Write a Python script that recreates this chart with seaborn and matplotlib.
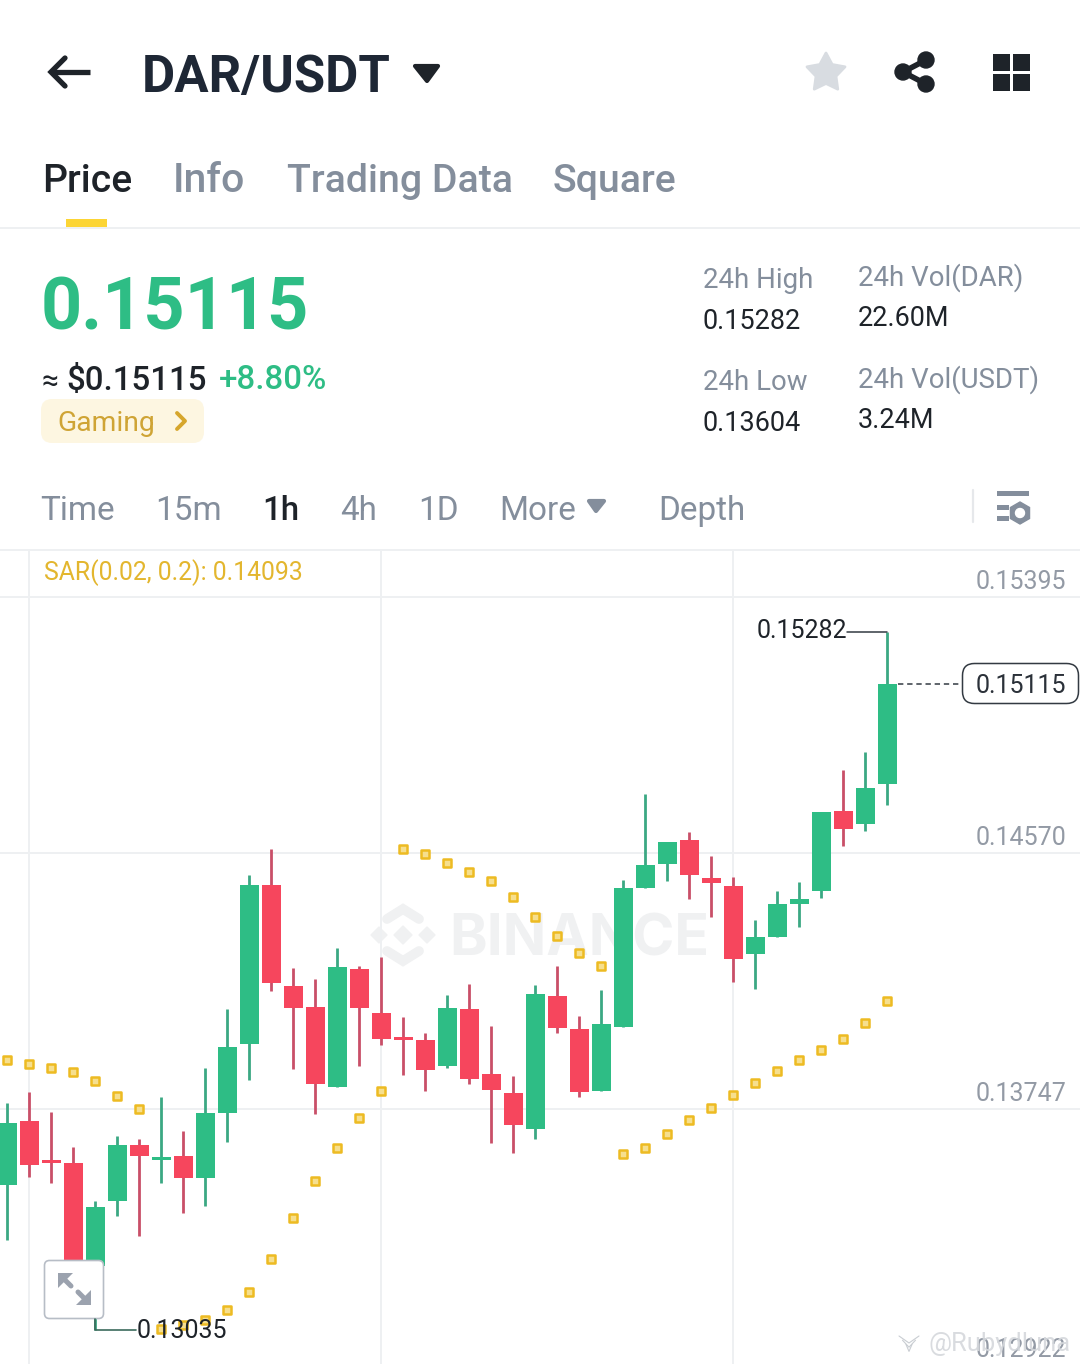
import numpy as np
import pandas as pd
import matplotlib
matplotlib.use("Agg")
import matplotlib.pyplot as plt
from matplotlib.patches import FancyBboxPatch, Polygon, Circle, Rectangle
from matplotlib.transforms import ScaledTranslation
import seaborn as sns

# candles
opens = [0.13501, 0.13707, 0.13583, 0.13572, 0.13241, 0.13450, 0.13630, 0.13582, 0.13595, 0.13524,
         0.13733, 0.13955, 0.14467, 0.14142, 0.14074, 0.13817, 0.14197, 0.14055, 0.13978, 0.13968,
         0.13884, 0.14068, 0.13859, 0.13797, 0.13682, 0.14110, 0.14003, 0.13804, 0.14010, 0.14457,
         0.14535, 0.14612, 0.14490, 0.14464, 0.14245, 0.14300, 0.14406, 0.14448, 0.14705, 0.14663,
         0.14792]
highs = [0.13765, 0.13801, 0.13736, 0.13624, 0.13450, 0.13659, 0.13649, 0.13785, 0.13675, 0.13878,
         0.14068, 0.14499, 0.14583, 0.14200, 0.14164, 0.14264, 0.14206, 0.14235, 0.14042, 0.13991,
         0.14113, 0.14148, 0.14013, 0.13852, 0.14145, 0.14206, 0.14045, 0.14129, 0.14483, 0.14760,
         0.14605, 0.14638, 0.14560, 0.14493, 0.14354, 0.14448, 0.14477, 0.14702, 0.14837, 0.14895,
         0.15282]
lows = [0.13324, 0.13527, 0.13508, 0.13215, 0.13035, 0.13401, 0.13337, 0.13508, 0.13411, 0.13434,
        0.13640, 0.13839, 0.14126, 0.13875, 0.13730, 0.13817, 0.13884, 0.13952, 0.13855, 0.13804,
        0.13878, 0.13826, 0.13636, 0.13604, 0.13649, 0.13991, 0.13785, 0.13804, 0.14010, 0.14457,
        0.14480, 0.14422, 0.14364, 0.14155, 0.14132, 0.14300, 0.14332, 0.14425, 0.14593, 0.14641,
        0.14725]
closes = [0.13701, 0.13566, 0.13572, 0.13241, 0.13430, 0.13630, 0.13595, 0.13591, 0.13524, 0.13733,
          0.13946, 0.14467, 0.14152, 0.14071, 0.13826, 0.14203, 0.14071, 0.13971, 0.13968, 0.13871,
          0.14071, 0.13843, 0.13807, 0.13694, 0.14116, 0.14007, 0.13801, 0.14020, 0.14457, 0.14531,
          0.14605, 0.14499, 0.14473, 0.14229, 0.14300, 0.14406, 0.14422, 0.14702, 0.14647, 0.14779,
          0.15115]
sar = [0.13904, 0.13891, 0.13878, 0.13865, 0.13836, 0.13788, 0.13746,
       0.13038, 0.13051, 0.13067, 0.13099, 0.13157, 0.13263, 0.13395, 0.13514, 0.13620, 0.13717, 0.13804,
       0.14583, 0.14567, 0.14538, 0.14509, 0.14480, 0.14428, 0.14364, 0.14303, 0.14248, 0.14206,
       0.13601, 0.13620, 0.13665, 0.13711, 0.13749, 0.13791, 0.13830, 0.13868, 0.13904, 0.13936,
       0.13971, 0.14023, 0.14094]
y_ticks = [0.15395, 0.14570, 0.13747, 0.12922]
x_grid = [1, 17, 33]

GREEN = "#2EBD85"
RED = "#F6465D"
GREEN_WICK = "#3BA883"
RED_WICK = "#C94F68"
DARK = "#1E2329"
GREY = "#848E9C"
LINE = "#EEF0F2"

sns.set_theme(style="white", font="Roboto")
plt.rcParams["font.family"] = ["Roboto", "DejaVu Sans"]

W, H = 1080, 1364
fig = plt.figure(figsize=(W / 100, H / 100), dpi=100, facecolor="white")


def pixel_axes(z):
    a = fig.add_axes([0, 0, 1, 1], zorder=z)
    a.set_xlim(0, W)
    a.set_ylim(H, 0)
    a.axis("off")
    a.patch.set_visible(False)
    return a


bg = pixel_axes(0)
ui = pixel_axes(3)

# chart sits from y=550px to just below the bottom edge, so the last tick still fits
top_px, bot_px = 550, 1370
ax = fig.add_axes([0, 1 - bot_px / H, 1, (bot_px - top_px) / H], zorder=1)
ax.patch.set_visible(False)
ax.set_xlim(-7.5 / 22, (W - 7.5) / 22)
ax.set_ylim(0.12906, 0.15545)
sns.despine(ax=ax, left=True, bottom=True)

ax.set_yticks(y_ticks)
ax.set_xticks(x_grid)
ax.set_xticklabels([])
ax.grid(True, color=LINE, linewidth=1.4)
ax.set_axisbelow(True)
ax.tick_params(axis="x", length=0)
ax.tick_params(axis="y", length=0, labelleft=False, labelright=True, pad=-10,
               labelsize=18, labelcolor="#939AA5")
ax.set_yticklabels([f"{v:.5f}" for v in y_ticks])
nudge = ScaledTranslation(0, 2.2 / 72, fig.dpi_scale_trans)
for tick in ax.yaxis.get_major_ticks():
    tick.label2.set_ha("right")
    tick.label2.set_va("bottom")
    tick.label2.set_transform(tick.label2.get_transform() + nudge)

df = pd.DataFrame({"open": opens, "high": highs, "low": lows, "close": closes, "sar": sar})
df["i"] = np.arange(len(df))
df["up"] = df["close"] >= df["open"]
df["top"] = df[["open", "close"]].max(axis=1)
df["bottom"] = df[["open", "close"]].min(axis=1)

for up, part in df.groupby("up"):
    ax.vlines(part["i"], part["low"], part["high"], color=GREEN_WICK if up else RED_WICK,
              linewidth=2.0, zorder=3)
    ax.bar(part["i"], part["top"] - part["bottom"], bottom=part["bottom"], width=0.86,
           color=GREEN if up else RED, linewidth=0, zorder=4)

sns.scatterplot(data=df, x="i", y="sar", marker="s", s=26, color="#F6DF8E", edgecolor="#EDBB22",
                linewidth=1.8, ax=ax, legend=False, zorder=5)
ax.set_xlabel("")
ax.set_ylabel("")


def txt(a, x, y, s, px, color=DARK, weight="normal", ha="left", **kw):
    return a.text(x, y, s, fontsize=px * 0.72, color=color, fontweight=weight, ha=ha, va="baseline", **kw)


# watermark under the candles
wm = "#F0F1F2"
cx, cy = 403, 935
for dx, dy, r in [(0, 0, 9), (-24, 0, 8), (24, 0, 8)]:
    bg.add_patch(Polygon([(cx + dx - r, cy + dy), (cx + dx, cy + dy - r), (cx + dx + r, cy + dy),
                          (cx + dx, cy + dy + r)], color=wm))
bg.plot([cx - 16, cx, cx + 16], [cy - 16, cy - 26, cy - 16], color=wm, linewidth=7, solid_joinstyle="miter")
bg.plot([cx - 16, cx, cx + 16], [cy + 16, cy + 26, cy + 16], color=wm, linewidth=7, solid_joinstyle="miter")
txt(bg, 449, 955, "BINANCE", 57, color=wm, weight="bold", family=["Inter", "Roboto"])

# header
ui.plot([90, 52], [72, 72], color=DARK, linewidth=3.8, solid_capstyle="butt")
ui.plot([65, 51, 65], [58, 72, 86], color=DARK, linewidth=3.8, solid_capstyle="round", solid_joinstyle="miter")
txt(ui, 142, 92, "DAR/USDT", 51, color="#1E2735", weight="bold")
ui.add_patch(Polygon([(415, 66), (438, 66), (427, 81)], color=DARK, linewidth=3, joinstyle="round"))

angles = np.deg2rad(np.arange(10) * 36 - 90)
radii = np.where(np.arange(10) % 2 == 0, 20, 10.5)
ui.add_patch(Polygon(np.c_[826 + radii * np.cos(angles), 73 + radii * np.sin(angles)],
                     color="#D8DCE1", joinstyle="round", linewidth=2))
ui.plot([926, 903, 926], [60, 72, 84], color=DARK, linewidth=4)
for px_, py_ in [(903, 72), (926, 60), (926, 84)]:
    ui.add_patch(Circle((px_, py_), 8, color=DARK))
for rx, ry, rw, rh in [(993, 54, 17, 17), (1013, 54, 17, 17), (993, 74, 17, 17), (1013, 74, 17, 17)]:
    ui.add_patch(Rectangle((rx, ry), rw, rh, color=DARK, linewidth=0))

# tabs
txt(ui, 42, 192, "Price", 39, weight="medium")
txt(ui, 173, 192, "Info", 41, color=GREY, weight="medium")
for x_, s_ in [(287, "Trading Data"), (553, "Square")]:
    txt(ui, x_, 192, s_, 39.3, color=GREY, weight="medium")
ui.add_patch(Rectangle((66, 219), 41, 8, color="#FCD535", linewidth=0))
ui.plot([0, W], [227.5, 227.5], color=LINE, linewidth=1.4)

# price block
txt(ui, 41, 329, "0.15115", 72, color=GREEN, weight="bold")
txt(ui, 42, 390, "≈", 30)
txt(ui, 66, 390, "$0.15115", 33, weight="medium")
txt(ui, 219, 389, "+8.80%", 33, color=GREEN, weight="medium")
ui.add_patch(FancyBboxPatch((41, 399), 163, 44, boxstyle="round,pad=0,rounding_size=11", facecolor="#FDF6E1",
                            edgecolor="none"))
txt(ui, 57, 431, "Gaming", 28.3, color="#CFA435")
ui.plot([177, 185, 177], [413, 421, 429], color="#D6A62C", linewidth=2.8)

# 24h stats
for x_, y_, s_ in [(703, 288, "24h High"), (858, 286, "24h Vol(DAR)"), (703, 390, "24h Low"), (858, 388, "24h Vol(USDT)")]:
    txt(ui, x_, y_, s_, 27.6, color=GREY)
for x_, y_, s_ in [(703, 329, "0.15282"), (858, 326, "22.60M"), (703, 431, "0.13604"), (858, 428, "3.24M")]:
    txt(ui, x_, y_, s_, 27)

# interval row
for x_, s_ in [(40, "Time"), (155, "15m"), (340, "4h"), (418, "1D"), (499, "More"), (658, "Depth")]:
    txt(ui, x_, 520, s_, 33.3, color=GREY)
txt(ui, 262, 520, "1h", 33, weight="medium")
ui.add_patch(Polygon([(589, 501), (604, 501), (596, 511)], color=GREY, linewidth=3, joinstyle="round"))
ui.plot([972.5, 972.5], [490, 522], color="#E6E8EB", linewidth=1.6)
ui.add_patch(Rectangle((997, 491), 32, 4.5, color=GREY, linewidth=0))
ui.add_patch(Rectangle((997, 505), 12, 4.5, color=GREY, linewidth=0))
ui.add_patch(Rectangle((997, 516), 12, 4.5, color=GREY, linewidth=0))
hexa = np.deg2rad(np.arange(6) * 60 + 30)
ui.add_patch(Polygon(np.c_[1020 + 11 * np.cos(hexa), 513 + 11 * np.sin(hexa)], color=GREY))
ui.add_patch(Circle((1020, 513), 4.5, color="white"))
ui.plot([0, W], [549.5, 549.5], color=LINE, linewidth=1.4)

# chart labels
txt(ui, 44, 580, "SAR(0.02, 0.2): 0.14093", 24.8, color="#E3B62E")
txt(ui, 757, 638, "0.15282", 25)
ui.plot([847, 887], [631.5, 631.5], color="#333A42", linewidth=1.1)
txt(ui, 137, 1338, "0.13035", 25)
ui.plot([95, 95, 136], [1319, 1329.5, 1329.5], color="#3B6B5C", linewidth=1.2)
ui.plot([898, 960], [683.5, 683.5], color="#333A42", linewidth=1.1, linestyle=(0, (3.5, 2.5)))
ui.add_patch(FancyBboxPatch((962.5, 663.5), 116, 40, boxstyle="round,pad=0,rounding_size=12",
                            facecolor="white", edgecolor="#333A42", linewidth=1.1))
txt(ui, 976, 693, "0.15115", 25, color="#2B3139")

# expand button
ui.add_patch(FancyBboxPatch((44.5, 1260.5), 59, 58, boxstyle="round,pad=0,rounding_size=5",
                            facecolor="white", edgecolor="#B7BDC6", linewidth=1.2))
btn = "#9BA2AE"
ui.add_patch(Polygon([(58, 1273), (73, 1273), (58, 1288)], color=btn, linewidth=0))
ui.plot([63, 71], [1278, 1286], color=btn, linewidth=3.6)
ui.add_patch(Polygon([(91, 1305), (76, 1305), (91, 1290)], color=btn, linewidth=0))
ui.plot([86, 78], [1300, 1292], color=btn, linewidth=3.6)

# corner watermark
for off in (0, 7, 14):
    ui.plot([899 + off / 2, 909, 919 - off / 2], [1336 + off * 0.6, 1343 + off * 0.6, 1336 + off * 0.6],
            color="#C9CDD2", linewidth=0.8)
txt(ui, 929, 1351, "@Rubydluna", 25.5, color="#D5D8DC", alpha=0.9)

fig.savefig("out.png", dpi=100, facecolor="white")
